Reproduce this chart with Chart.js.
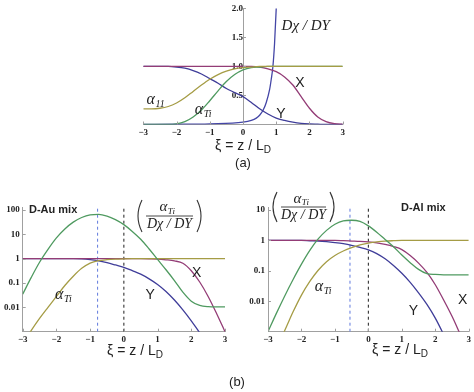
<!DOCTYPE html>
<html>
<head>
<meta charset="utf-8">
<script src="https://cdn.jsdelivr.net/npm/chart.js@4.4.1/dist/chart.umd.min.js"></script>
<style>
  html, body { margin: 0; padding: 0; background: #fff; }
  #wrap { position: relative; width: 474px; height: 392px; overflow: hidden; }
  canvas { position: absolute; }
  #lblB { position: absolute; left: 0; width: 474px; top: 374px; text-align: center;
          font: 13px "Liberation Sans", Arial, sans-serif; color: #222; }
</style>
</head>
<body>
<div id="wrap">
  <canvas id="chartA" width="474" height="175" style="left:0;top:0;width:474px;height:175px"></canvas>
  <canvas id="chartAu" width="237" height="217" style="left:0;top:175px;width:237px;height:217px"></canvas>
  <canvas id="chartAl" width="237" height="217" style="left:237px;top:175px;width:237px;height:217px"></canvas>
  <div id="lblB">(b)</div>
</div>
<script>
// shared x grid (xi = z / L_D)
const xs = [-3, -2.75, -2.5, -2.25, -2, -1.75, -1.5, -1.25, -1, -0.75, -0.5, -0.25,
            0, 0.25, 0.5, 0.75, 1, 1.25, 1.5, 1.75, 2, 2.25, 2.5, 2.75, 3];
const xTicks = [-3, -2, -1, 0, 1, 2, 3];

// panel (a), linear
const alpha11A = [0.27, 0.27, 0.28, 0.31, 0.37, 0.46, 0.57, 0.68, 0.78, 0.86, 0.92, 0.96,
                  0.98, 0.99, 1, 1, 1, 1, 1, 1, 1, 1, 1, 1, 1];
const alphaTiA = [0, 0, 0, 0, 0.01, 0.05, 0.13, 0.25, 0.41, 0.58, 0.74, 0.86,
                  0.94, 0.98, 0.99, 1, 1, 1, 1, 1, 1, 1, 1, 1, 1];
const yA = [1, 1, 1, 1, 0.99, 0.97, 0.93, 0.87, 0.79, 0.71, 0.62, 0.55,
            0.48, 0.38, 0.27, 0.18, 0.11, 0.07, 0.04, 0.02, 0.01, 0.005, 0, 0, 0];
const xA = [1, 1, 1, 1, 1, 1, 1, 1, 1, 1, 1, 1,
            1, 1, 0.99, 0.96, 0.91, 0.82, 0.68, 0.48, 0.28, 0.13, 0.05, 0.015, 0.005];
const dchiXs = [-3, -2, -1, 0, 0.25, 0.4, 0.5, 0.6, 0.7, 0.8, 0.85, 0.9, 0.95, 1.0, 1.05];
const dchiA = [0.001, 0.004, 0.012, 0.04, 0.07, 0.11, 0.16, 0.24, 0.38, 0.6, 0.78, 1.0, 1.4, 2.0, 2.7];
const yTicksA = [0.5, 1, 1.5, 2];

// panel (b) left, D-Au mix, log
const ratioAu = [0.035, 0.166, 0.71, 2.4, 7.1, 16.6, 31.6, 49, 63, 66, 56, 40,
                 25, 13.2, 6.3, 2.5, 0.93, 0.35, 0.126, 0.042, 0.018, 0.012, 0.0107, 0.0105, 0.0105];
const alphaAu = [0.0003, 0.0011, 0.0035, 0.01, 0.028, 0.079, 0.19, 0.4, 0.66, 0.83, 0.91, 0.955,
                 0.98, 0.995, 1, 1, 1, 1, 1, 1, 1, 1, 1, 1, 1];
const yAu = [1, 1, 1, 1, 1, 1, 1, 0.977, 0.91, 0.81, 0.68, 0.55,
             0.44, 0.32, 0.23, 0.148, 0.087, 0.045, 0.02, 0.0079, 0.0028, 0.0009, 0.0003, 0.0001, 0.00003];
const xAu = [1, 1, 1, 1, 1, 1, 1, 1, 1, 1, 1, 1,
             1, 1, 1, 0.99, 0.97, 0.9, 0.81, 0.65, 0.32, 0.11, 0.028, 0.0056, 0.001];
const markersAu = [-0.78, 0];
const yTicksAu = [0.01, 0.1, 1, 10, 100];

// panel (b) right, D-Al mix, log
const ratioAl = [0.001, 0.004, 0.015, 0.052, 0.166, 0.47, 1.12, 2.14, 3.4, 4.4, 4.6, 4.2,
                 3.0, 1.86, 1.07, 0.62, 0.33, 0.186, 0.112, 0.081, 0.076, 0.074, 0.074, 0.074, 0.074];
const alphaAl = [0.0001, 0.0003, 0.0011, 0.0045, 0.016, 0.045, 0.105, 0.2, 0.32, 0.45, 0.58, 0.71,
                 0.81, 0.89, 0.95, 0.98, 1, 1, 1, 1, 1, 1, 1, 1, 1];
const yAl = [1, 1, 1, 1, 1, 0.977, 0.955, 0.91, 0.85, 0.78, 0.69, 0.59,
             0.49, 0.37, 0.25, 0.15, 0.083, 0.042, 0.019, 0.0079, 0.0028, 0.0008, 0.0002, 0.00005, 0.00001];
const xAl = [1, 1, 1, 1, 1, 1, 1, 1, 1, 0.98, 0.955, 0.93,
             0.89, 0.83, 0.74, 0.63, 0.5, 0.32, 0.18, 0.089, 0.035, 0.011, 0.0032, 0.0008, 0.0002];
const markersAl = [-0.55, 0];
const yTicksAl = [0.01, 0.1, 1, 10];

const BLUE = '#3f3d99', PURPLE = '#933c76', OLIVE = '#a59c45', GREEN = '#4f9a60';
const AXIS = '#a0a0a0';
const tickFont = { family: '"Liberation Serif", "Times New Roman", serif', size: 9, weight: 'bold' };

const pts = (xv, yv) => xv.map((x, i) => ({ x: x, y: yv[i] }));

function curve(data, color) {
    return { data: data, borderColor: color, borderWidth: 1.3, pointRadius: 0,
             cubicInterpolationMode: 'monotone', fill: false };
}
function marker(x, lo, hi, color) {
    return { data: [{ x: x, y: lo }, { x: x, y: hi }], borderColor: color, borderWidth: 1.1,
             borderDash: [3, 3], pointRadius: 0, fill: false };
}
const fmtX = v => v < 0 ? '\u2212' + Math.abs(v) : String(v);

function xScale(h) {
    return {
        type: 'linear', min: -3, max: 3,
        afterBuildTicks: s => { s.ticks = xTicks.map(v => ({ value: v })); },
        afterFit: s => { s.height = h; },
        border: { color: AXIS },
        grid: { drawOnChartArea: false, drawTicks: false },
        ticks: { font: tickFont, color: '#222', padding: 3, callback: fmtX, maxRotation: 0 }
    };
}

// small inward tick marks, Mathematica style
function innerTicks(ctx, sx, sy, yAt) {
    const y0 = yAt == null ? sy.bottom : sy.getPixelForValue(yAt);
    const x0 = sy.options.position === 'left' ? sx.left : sx.getPixelForValue(0);
    ctx.save();
    ctx.strokeStyle = AXIS;
    ctx.lineWidth = 1;
    ctx.beginPath();
    sx.ticks.forEach(t => {
        const p = Math.round(sx.getPixelForValue(t.value)) + 0.5;
        ctx.moveTo(p, y0); ctx.lineTo(p, y0 - 3);
    });
    sy.ticks.forEach(t => {
        const p = Math.round(sy.getPixelForValue(t.value)) + 0.5;
        ctx.moveTo(x0, p); ctx.lineTo(x0 + 3, p);
    });
    ctx.stroke();
    ctx.restore();
}

// ----- text helpers -----
function alphaSub(ctx, x, y, sub, size) {
    ctx.save();
    ctx.fillStyle = '#222';
    ctx.textBaseline = 'middle';
    ctx.textAlign = 'left';
    ctx.font = 'italic ' + size + 'px "Liberation Serif", serif';
    ctx.fillText('\u03b1', x, y);
    const w = ctx.measureText('\u03b1').width;
    ctx.font = 'italic ' + Math.round(size * 0.6) + 'px "Liberation Serif", serif';
    ctx.fillText(sub, x + w + 0.5, y + size * 0.28);
    ctx.restore();
}
function xiTitle(ctx, cx, y) {
    ctx.save();
    ctx.fillStyle = '#222';
    ctx.textBaseline = 'middle';
    ctx.textAlign = 'left';
    ctx.font = '14px "Liberation Sans", Arial, sans-serif';
    const main = '\u03be = z / L';
    const w1 = ctx.measureText(main).width;
    ctx.font = '10px "Liberation Sans", Arial, sans-serif';
    const w2 = ctx.measureText('D').width;
    const x0 = cx - (w1 + w2) / 2;
    ctx.font = '14px "Liberation Sans", Arial, sans-serif';
    ctx.fillText(main, x0, y);
    ctx.font = '10px "Liberation Sans", Arial, sans-serif';
    ctx.fillText('D', x0 + w1, y + 4);
    ctx.restore();
}
function plainText(ctx, txt, x, y, font, align) {
    ctx.save();
    ctx.fillStyle = '#222';
    ctx.textBaseline = 'middle';
    ctx.textAlign = align || 'center';
    ctx.font = font;
    ctx.fillText(txt, x, y);
    ctx.restore();
}
function fraction(ctx, x1, x2, y1, y2) {
    const cx = (x1 + x2) / 2, h = y2 - y1, mid = (y1 + y2) / 2;
    ctx.save();
    ctx.strokeStyle = '#333';
    ctx.lineWidth = 1.1;
    ctx.beginPath();
    ctx.moveTo(x1 + 5, y1);
    ctx.quadraticCurveTo(x1 - 3, mid, x1 + 5, y2);
    ctx.moveTo(x2 - 5, y1);
    ctx.quadraticCurveTo(x2 + 3, mid, x2 - 5, y2);
    ctx.stroke();
    ctx.lineWidth = 0.9;
    ctx.beginPath();
    ctx.moveTo(x1 + 9, mid);
    ctx.lineTo(x2 - 9, mid);
    ctx.stroke();
    ctx.restore();
    alphaSub(ctx, cx - 10, mid - h * 0.27, 'Ti', 15);
    plainText(ctx, 'D\u03c7 / DY', cx, mid + h * 0.27, 'italic 14px "Liberation Serif", serif');
}

function makeChart(id, datasets, scales, padding, draw) {
    return new Chart(document.getElementById(id), {
        type: 'line',
        data: { datasets: datasets },
        options: {
            responsive: false, animation: false, devicePixelRatio: 1,
            layout: { padding: padding },
            plugins: { legend: { display: false }, tooltip: { enabled: false } },
            scales: scales
        },
        plugins: [{ id: 'notes', afterDraw: chart => draw(chart.ctx, chart.scales.x, chart.scales.y) }]
    });
}

// ----- panel (a) -----
makeChart('chartA', [
    curve(pts(xs, alpha11A), OLIVE),
    curve(pts(xs, alphaTiA), GREEN),
    curve(pts(xs, xA), PURPLE),
    curve(pts(xs, yA), BLUE),
    curve(pts(dchiXs, dchiA), '#4446a6')
], {
    x: xScale(50.5),
    y: {
        type: 'linear', min: 0, max: 2, position: { x: 0 },
        afterBuildTicks: s => { s.ticks = yTicksA.map(v => ({ value: v })); },
        border: { color: AXIS },
        grid: { drawOnChartArea: false, drawTicks: false },
        ticks: { font: tickFont, color: '#222', padding: 3, callback: v => v.toFixed(1) }
    }
}, { left: 143.3, right: 131.3, top: 3, bottom: 0 }, (ctx, sx, sy) => {
    innerTicks(ctx, sx, sy, 0);
    plainText(ctx, 'D\u03c7 / DY', sx.getPixelForValue(1.16), sy.getPixelForValue(1.69),
              'italic 15px "Liberation Serif", serif', 'left');
    plainText(ctx, 'X', sx.getPixelForValue(1.71), sy.getPixelForValue(0.72), '14px "Liberation Sans", sans-serif');
    plainText(ctx, 'Y', sx.getPixelForValue(1.14), sy.getPixelForValue(0.17), '14px "Liberation Sans", sans-serif');
    alphaSub(ctx, sx.getPixelForValue(-2.9), sy.getPixelForValue(0.42), '11', 16);
    alphaSub(ctx, sx.getPixelForValue(-1.45), sy.getPixelForValue(0.25), 'Ti', 16);
    xiTitle(ctx, 243, 146);
    plainText(ctx, '(a)', 243, 163, '13px "Liberation Sans", sans-serif');
});

// ----- panel (b) left -----
function logY(max, ticks, w) {
    return {
        type: 'logarithmic', min: 0.001, max: max, position: 'left',
        afterBuildTicks: s => { s.ticks = ticks.map(v => ({ value: v })); },
        afterFit: s => { s.width = w; },
        border: { color: AXIS },
        grid: { drawOnChartArea: false, drawTicks: false },
        ticks: { font: tickFont, color: '#222', padding: 3, callback: v => String(v) }
    };
}

makeChart('chartAu', [
    curve(pts(xs, ratioAu), GREEN),
    curve(pts(xs, alphaAu), OLIVE),
    curve(pts(xs, xAu), PURPLE),
    curve(pts(xs, yAu), BLUE),
    marker(markersAu[0], 0.001, 124, '#6f86e0'),
    marker(markersAu[1], 0.001, 124, '#333')
], {
    x: xScale(60.3),
    y: logY(124, yTicksAu, 22.7)
}, { left: 0, right: 12, top: 32.7, bottom: 0 }, (ctx, sx, sy) => {
    innerTicks(ctx, sx, sy, null);
    plainText(ctx, 'D-Au mix', 29, 35, 'bold 11px "Liberation Sans", sans-serif', 'left');
    fraction(ctx, 137, 202, 25, 57);
    alphaSub(ctx, sx.getPixelForValue(-2.04), sy.getPixelForValue(0.032), 'Ti', 16);
    plainText(ctx, 'Y', sx.getPixelForValue(0.78), sy.getPixelForValue(0.032), '14px "Liberation Sans", sans-serif');
    plainText(ctx, 'X', sx.getPixelForValue(2.16), sy.getPixelForValue(0.25), '14px "Liberation Sans", sans-serif');
    xiTitle(ctx, 135, 176);
});

// ----- panel (b) right -----
makeChart('chartAl', [
    curve(pts(xs, ratioAl), GREEN),
    curve(pts(xs, alphaAl), OLIVE),
    curve(pts(xs, xAl), PURPLE),
    curve(pts(xs, yAl), BLUE),
    marker(markersAl[0], 0.001, 11.9, '#6f86e0'),
    marker(markersAl[1], 0.001, 11.9, '#333')
], {
    x: xScale(60.3),
    y: logY(11.9, yTicksAl, 31)
}, { left: 0, right: 4.7, top: 32.7, bottom: 0 }, (ctx, sx, sy) => {
    innerTicks(ctx, sx, sy, null);
    plainText(ctx, 'D-Al mix', 164, 33, 'bold 11px "Liberation Sans", sans-serif', 'left');
    fraction(ctx, 35, 98, 17, 47);
    alphaSub(ctx, sx.getPixelForValue(-1.6), sy.getPixelForValue(0.03), 'Ti', 16);
    plainText(ctx, 'Y', sx.getPixelForValue(1.35), sy.getPixelForValue(0.0046), '14px "Liberation Sans", sans-serif');
    plainText(ctx, 'X', sx.getPixelForValue(2.82), sy.getPixelForValue(0.011), '14px "Liberation Sans", sans-serif');
    xiTitle(ctx, 163, 175);
});
</script>
</body>
</html>
